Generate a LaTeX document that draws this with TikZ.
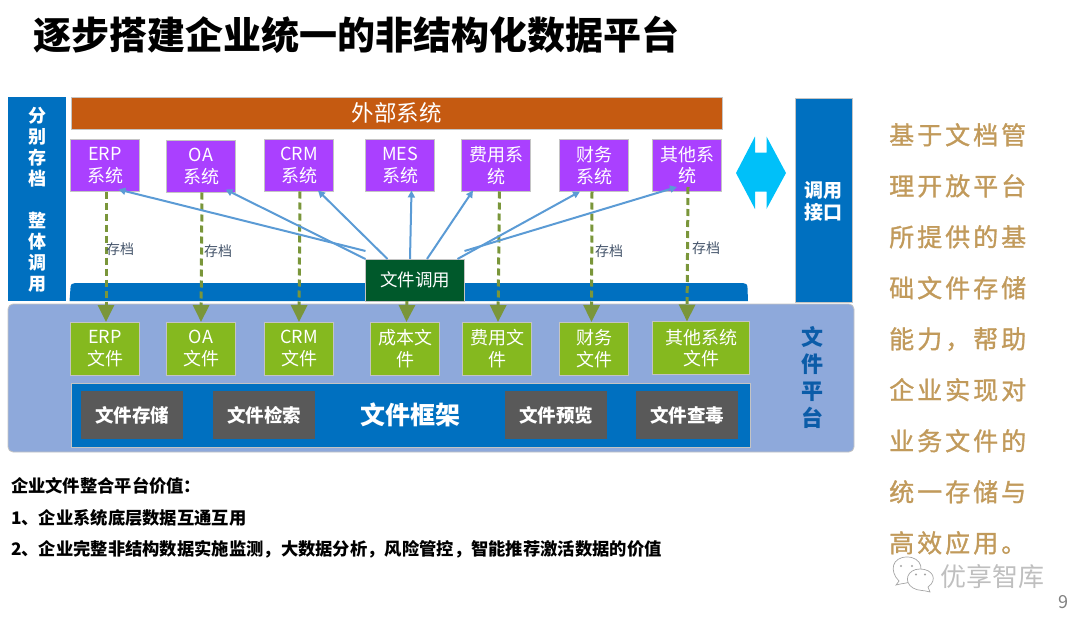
\documentclass[tikz,border=0pt]{standalone}
\usepackage{fontspec}
\usepackage{xcolor}
\usetikzlibrary{positioning,arrows.meta}
\setmainfont{Noto Sans CJK SC}
\newfontfamily\goldfont[LetterSpace=12,FakeBold=1.2]{Noto Sans CJK SC}
\definecolor{sysblue}{HTML}{0070C0}
\definecolor{sysorange}{HTML}{C55A11}
\definecolor{syspurple}{HTML}{AA40FF}
\definecolor{filegreen}{HTML}{85B91F}
\definecolor{calldark}{HTML}{00592B}
\definecolor{platblue}{HTML}{8EA9DB}
\definecolor{toolgray}{HTML}{595959}
\definecolor{arrowcyan}{HTML}{00C0F9}
\definecolor{linkblue}{HTML}{5B9BD5}
\definecolor{linkolive}{HTML}{7A963A}
\definecolor{edgegray}{HTML}{C4C4C4}
\definecolor{labelslate}{HTML}{44546A}
\definecolor{goldtext}{HTML}{C19A5B}
\definecolor{platetext}{HTML}{0B5CA8}

\begin{document}
\begin{tikzpicture}
[x=1pt, y=-1pt,
cell-base/.style={draw=edgegray, line width=0.8pt, text=white, inner sep=0pt, outer sep=0pt, align=center},
cell-sys/.style={cell-base, fill=syspurple, minimum width=69pt, minimum height=52pt, font=\fontsize{18}{21.5}\selectfont, execute at begin node=\rule{0pt}{21.5pt}},
cell-file/.style={cell-base, fill=filegreen, minimum width=69pt, minimum height=53pt, font=\fontsize{18}{21.5}\selectfont, execute at begin node=\rule{0pt}{21.5pt}},
cell-tool/.style={fill=toolgray, text=white, inner sep=0pt, outer sep=0pt, minimum width=102pt, minimum height=48pt, font=\fontsize{18.5}{22}\bfseries\selectfont},
cell-side/.style={cell-base, fill=sysblue},
text-a/.style={inner sep=0pt, outer sep=0pt, align=left, text=black, font=\fontsize{17.3}{20}\bfseries\selectfont},
text-b/.style={inner sep=0pt, text=labelslate, font=\fontsize{14}{16}\selectfont},
link-a/.style={draw=linkblue, line width=2pt, -{Triangle[length=7pt,width=7pt]}},
link-b/.style={draw=linkolive, line width=3pt, dash pattern=on 7pt off 4pt, -{Triangle[length=17pt,width=16pt,fill=linkolive]}},]
\useasboundingbox (0,0) rectangle (1080,624);
\node (title) [anchor=west, inner sep=0pt, font=\fontsize{38}{44}\bfseries\selectfont] at (33,35) {逐步搭建企业统一的非结构化数据平台};
% top part
\node (side-left) [cell-side, draw=none, minimum width=58pt, minimum height=204pt] at (37,199) {};
\node (side-left-text) [inner sep=0pt, text=white, align=center, font=\fontsize{18}{21}\bfseries\selectfont] at (37,200) {分\\别\\存\\档\\ \\整\\体\\调\\用};
\node (outer) [cell-base, fill=sysorange, minimum width=651pt, minimum height=32pt, font=\fontsize{22.5}{26}\selectfont] at (396.5,113) {外部系统};
\node (sys-erp) [cell-sys] at (105,165.5) {ERP\\系统};
\node (sys-oa)  [cell-sys, right = 27pt of sys-erp, yshift=-1pt] {OA\\系统};
\node (sys-crm) [cell-sys, right = 29pt of sys-oa, yshift=1pt]   {CRM\\系统};
\node (sys-mes) [cell-sys, right = 32pt of sys-crm]              {MES\\系统};
\node (sys-fee) [cell-sys, right = 27pt of sys-mes]              {费用系\\统};
\node (sys-fin) [cell-sys, right = 29pt of sys-fee]              {财务\\系统};
\node (sys-etc) [cell-sys, right = 24pt of sys-fin, yshift=0.5pt] {其他系\\统};
\node (side-right) [cell-side, minimum width=57pt, minimum height=204pt] at (823.5,200) {};
\node (side-right-text) [inner sep=0pt, text=white, align=center, font=\fontsize{19}{22}\bfseries\selectfont] at (823.5,201.5) {调用\\接口};
\fill [arrowcyan] (736,173) -- (755,136.5) -- (755,152.5) -- (766.5,152.5) -- (766.5,136.5) -- (786,173) -- (766.5,209) -- (766.5,191.5) -- (755,191.5) -- (755,209) -- cycle;
\fill [sysblue] (69.5,301) -- (70.5,288) .. controls (70.5,284.5) and (72,283) .. (75,283) -- (743,283) .. controls (746,283) and (747.5,284.5) .. (747.5,288) -- (748,301) -- cycle;
% file platform
\node (plat) [cell-base, fill=platblue, rounded corners=5pt, minimum width=846pt, minimum height=148pt] at (431,378) {};
\node (plat-name) [inner sep=0pt, text=platetext, align=center, font=\fontsize{22}{27}\bfseries\selectfont] at (812,377.5) {文\\件\\平\\台};
\node (file-erp) [cell-file, below = 130pt of sys-erp, yshift=-0.5pt] {ERP\\文件};
\node (file-oa)  [cell-file, right = 27pt of file-erp]  {OA\\文件};
\node (file-crm) [cell-file, right = 29pt of file-oa]   {CRM\\文件};
\node (file-cost) [cell-file, right = 37pt of file-crm] {成本文\\件};
\node (file-fee) [cell-file, right = 23pt of file-cost] {费用文\\件};
\node (file-fin) [cell-file, right = 28pt of file-fee]  {财务\\文件};
\node (file-etc) [cell-file, right = 24pt of file-fin, minimum width=97pt, yshift=0.5pt] {其他系统\\文件};
\node (frame) [cell-base, fill=sysblue, minimum width=679pt, minimum height=64pt, font=\fontsize{25}{28}\bfseries\selectfont] at (410.5,415) {文件框架};
\node (tool-a) [cell-tool] at (132,415) {文件存储};
\node (tool-b) [cell-tool, right = 30pt of tool-a] {文件检索};
\node (tool-c) [cell-tool, right = 190pt of tool-b] {文件预览};
\node (tool-d) [cell-tool, right = 29pt of tool-c] {文件查毒};
\node (call) [cell-base, fill=calldark, minimum width=99pt, minimum height=42pt, font=\fontsize{17.5}{21}\selectfont] at (415,280) {文件调用};
% connectors
\draw [link-b] ([xshift=1pt]sys-erp.south) -- ([xshift=1pt]file-erp.north);
\draw [link-b] ([xshift=1pt]sys-oa.south) -- ([xshift=0pt]file-oa.north);
\draw [link-b] ([xshift=1pt]sys-crm.south) -- ([xshift=0pt]file-crm.north);
\draw [link-b] ([xshift=-8pt]call.south) -- ([xshift=1.5pt]file-cost.north);
\draw [link-b] ([xshift=3.5pt]sys-fee.south) -- ([xshift=1pt]file-fee.north);
\draw [link-b] ([xshift=-2pt]sys-fin.south) -- ([xshift=-2.5pt]file-fin.north);
\draw [link-b] ([xshift=1pt,yshift=4pt]sys-etc.south) -- ([xshift=-14pt]file-etc.north);
\draw [link-a] ([yshift=8pt]call.north west) -- ([xshift=13.5pt,yshift=2pt]sys-erp.south);
\draw [link-a] (call.north west) -- ([xshift=24.5pt,yshift=3pt]sys-oa.south);
\draw [link-a] ([xshift=22pt]call.north west) -- ([xshift=19pt,yshift=1pt]sys-crm.south);
\draw [link-a] ([xshift=-5pt]call.north) -- ([xshift=11.5pt,yshift=1pt]sys-mes.south);
\draw [link-a] ([xshift=12pt]call.north) -- ([xshift=-23pt,yshift=1pt]sys-fee.south);
\draw [link-a] ([xshift=-7pt]call.north east) -- ([xshift=-14pt]sys-fin.south);
\draw [link-a] ([yshift=8pt]call.north east) -- ([xshift=-10pt,yshift=4pt]sys-etc.south);
\node (arc-a) [text-b] at (120,249) {存档};
\node (arc-b) [text-b] at (218,251) {存档};
\node (arc-c) [text-b] at (609,251) {存档};
\node (arc-d) [text-b] at (706,248) {存档};
% notes
\node (note-a) [text-a, anchor=west] at (11,486) {企业文件整合平台价值：};
\node (note-b) [text-a, anchor=west] at (11,518) {1、企业系统底层数据互通互用};
\node (note-c) [text-a, anchor=west] at (11,549) {2、企业完整非结构数据实施监测，大数据分析，风险管控，智能推荐激活数据的价值};
\node (gold) [anchor=north west, inner sep=0pt, align=left, text=goldtext, font=\goldfont\fontsize{25}{51}\selectfont] at (889,123) {基于文档管\\理开放平台\\所提供的基\\础文件存储\\能力，帮助\\企业实现对\\业务文件的\\统一存储与\\高效应用。};
% watermark
\draw [draw=gray!70, fill=white, line width=0.7pt] (896,585) -- (899,581) .. controls (889,571) and (892,557) .. (907,557) .. controls (922,557) and (926,572) .. (914,580) .. controls (908,584) and (902,583) .. (896,585) -- cycle;
\draw [draw=gray!70, fill=white, line width=0.7pt] (930,592) -- (928,587) .. controls (938,580) and (933,569) .. (920,569) .. controls (907,569) and (903,582) .. (913,588) .. controls (918,591) and (924,590) .. (930,592) -- cycle;
\foreach \dotx/\doty in {901/566, 912/566, 916/574.5, 925/574.5} \fill [gray!70] (\dotx,\doty) circle (1.2pt);
\node (mark) [anchor=west, inner sep=0pt, text=gray!50, font=\fontsize{26}{30}\selectfont] at (940,577) {优享智库};
\node (page) [inner sep=0pt, text=gray, font=\fontsize{18}{20}\selectfont] at (1063,602) {9};
\end{tikzpicture}
\end{document}
